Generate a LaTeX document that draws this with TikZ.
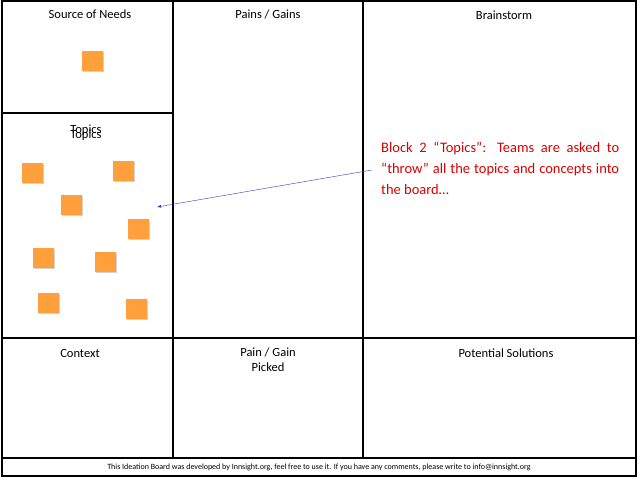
\documentclass[tikz,border=0pt]{standalone}
\usepackage{fontspec}
\setmainfont{Carlito}
\usetikzlibrary{shadows}
\definecolor{postit}{RGB}{255,160,60}
\begin{document}
\begin{tikzpicture}[x=1pt,y=-1pt,
  grid/.style={line width=1.3pt,black},
  lbl/.style={font=\fontsize{12.5}{14}\selectfont},
  note/.style={fill=postit,minimum width=21pt,minimum height=20pt,inner sep=0pt,
     drop shadow={shadow xshift=1.5pt,shadow yshift=-1.5pt,opacity=.35}}]
\useasboundingbox (0,0) rectangle (638,478);
\draw[grid] (2,1) rectangle (636,476);
\draw[grid] (173,1) -- (173,458);
\draw[grid] (363,1) -- (363,458);
\draw[grid] (2,113) -- (173,113);
\draw[grid] (2,338) -- (636,338);
\draw[grid] (2,458) -- (636,458);
\node[lbl] (s) at (90,14) {Source of Needs};
\node[lbl] (p) at (268,14) {Pains / Gains};
\node[lbl] (b) at (504,15) {Brainstorm};
\node[lbl] (t1) at (86,130) {Topics};
\node[lbl] (t2) at (86,135) {Topics};
\node[lbl] (c) at (80,353) {Context};
\node[lbl,align=center] (pg) at (268,360) {Pain / Gain\\[1pt]Picked};
\node[lbl] (ps) at (506,353) {Potential Solutions};
\node[font=\fontsize{8}{9}\selectfont] (f) at (319,467) {This Ideation Board was developed by Innsight.org, feel free to use it. If you have any comments, please write to info@innsight.org};
\node[text=red!85!black,font=\fontsize{14.5}{21}\selectfont,text width=238pt,align=justify,inner sep=0pt,anchor=north west] (r) at (381,142)
 {Block 2 “Topics”: Teams are asked to “throw” all the topics and concepts into the board…};
\coordinate (ae) at (157,207);
\coordinate (as) at (372,170);
\draw[-latex,color=blue!60!gray,thin] (as) -- (ae);
\foreach \n/\x/\y in {a/92/61,b/32/173,c/123/171,d/71/205,e/138/229,f/43/258,g/105/262,h/48/303,i/136/309}
  \node[note] (n\n) at (\x,\y) {};
\end{tikzpicture}
\end{document}
